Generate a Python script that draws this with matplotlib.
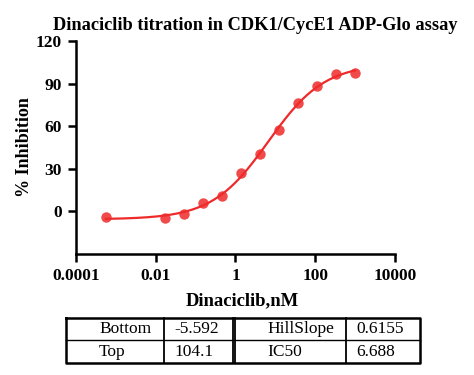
import numpy as np
import matplotlib.pyplot as plt

# Dinaciclib titration data (nM, % inhibition)
conc = [0.00056, 0.017, 0.051, 0.15, 0.46, 1.37, 4.1, 12.3, 37, 111, 333, 1000]
inhib = [-4.2, -4.4, -2.1, 5.6, 10.8, 27.1, 40.6, 57.3, 76.0, 88.4, 96.8, 97.3]

# fitted 4PL parameters shown in the table
fit_names = ['Bottom', 'Top', 'HillSlope', 'IC50']
fit_vals = [-5.592, 104.1, 0.6155, 6.688]
fit_text = ['-5.592', '104.1', '0.6155', '6.688']

xticks = [0.0001, 0.01, 1, 100, 10000]
xticklabels = ['0.0001', '0.01', '1', '100', '10000']
yticks = [0, 30, 60, 90, 120]

plt.rcParams['font.family'] = 'Liberation Serif'
red = '#ee2a2a'

fig = plt.figure(figsize=(4.74, 3.75), dpi=100)
ax = fig.add_axes([0.1603, 0.3227, 0.673, 0.568])

bottom, top, hill, ic50 = fit_vals
xs = np.logspace(np.log10(conc[0]), np.log10(conc[-1]), 300)
ys = bottom + (top - bottom) / (1 + (ic50 / xs) ** hill)
ax.plot(xs, ys, color=red, lw=1.6, zorder=2)
ax.plot(conc, inhib, 'o', color=red, alpha=0.85, ms=7.5, mec='none', zorder=3)

ax.set_xscale('log')
ax.set_xlim(0.0001, 10000)
ax.set_ylim(-30, 120)
ax.set_xticks(xticks)
ax.set_xticklabels(xticklabels)
ax.minorticks_off()
ax.set_yticks(yticks)
for s in ['top', 'right']:
    ax.spines[s].set_visible(False)
for s in ['left', 'bottom']:
    ax.spines[s].set_linewidth(1.8)
ax.tick_params(width=1.8, length=6, labelsize=12.5, pad=4)
for lab in ax.get_xticklabels() + ax.get_yticklabels():
    lab.set_fontweight('bold')
ax.set_ylabel('% Inhibition', fontsize=13, fontweight='bold')
ax.yaxis.set_label_coords(-0.135, 0.5)

fig.text(0.538, 0.933, 'Dinaciclib titration in CDK1/CycE1 ADP-Glo assay',
         ha='center', va='center', fontsize=13.2, fontweight='bold')
fig.text(0.511, 0.198, 'Dinaciclib,nM', ha='center', va='center',
         fontsize=13.4, fontweight='bold')

# parameter table drawn in pixel coordinates
tab = fig.add_axes([0, 0, 1, 1], zorder=-1)
tab.set_xlim(0, 474)
tab.set_ylim(375, 0)
tab.axis('off')
x0, x1, x2a, x2b, x3, x4 = 66, 164, 233, 235.5, 346, 420
y0, y1, y2 = 318, 340, 363
tab.plot([x0, x4, x4, x0, x0], [y0, y0, y2, y2, y0], color='black', lw=1.8)
tab.plot([x0, x4], [y1, y1], color='black', lw=1)
for xv in [x1, x2a, x2b, x3]:
    tab.plot([xv, xv], [y0, y2], color='black', lw=1.3)
rows = [(y0 + y1) / 2, (y1 + y2) / 2]
fs = 12.5
tab.text(99, rows[0], fit_names[0], va='center', fontsize=fs)
tab.text(174, rows[0], fit_text[0], va='center', fontsize=fs)
tab.text(99, rows[1], fit_names[1], va='center', fontsize=fs)
tab.text(174, rows[1], fit_text[1], va='center', fontsize=fs)
tab.text(267, rows[0], fit_names[2], va='center', fontsize=fs)
tab.text(356, rows[0], fit_text[2], va='center', fontsize=fs)
tab.text(267, rows[1], fit_names[3], va='center', fontsize=fs)
tab.text(356, rows[1], fit_text[3], va='center', fontsize=fs)

fig.savefig('out.png', dpi=100)
